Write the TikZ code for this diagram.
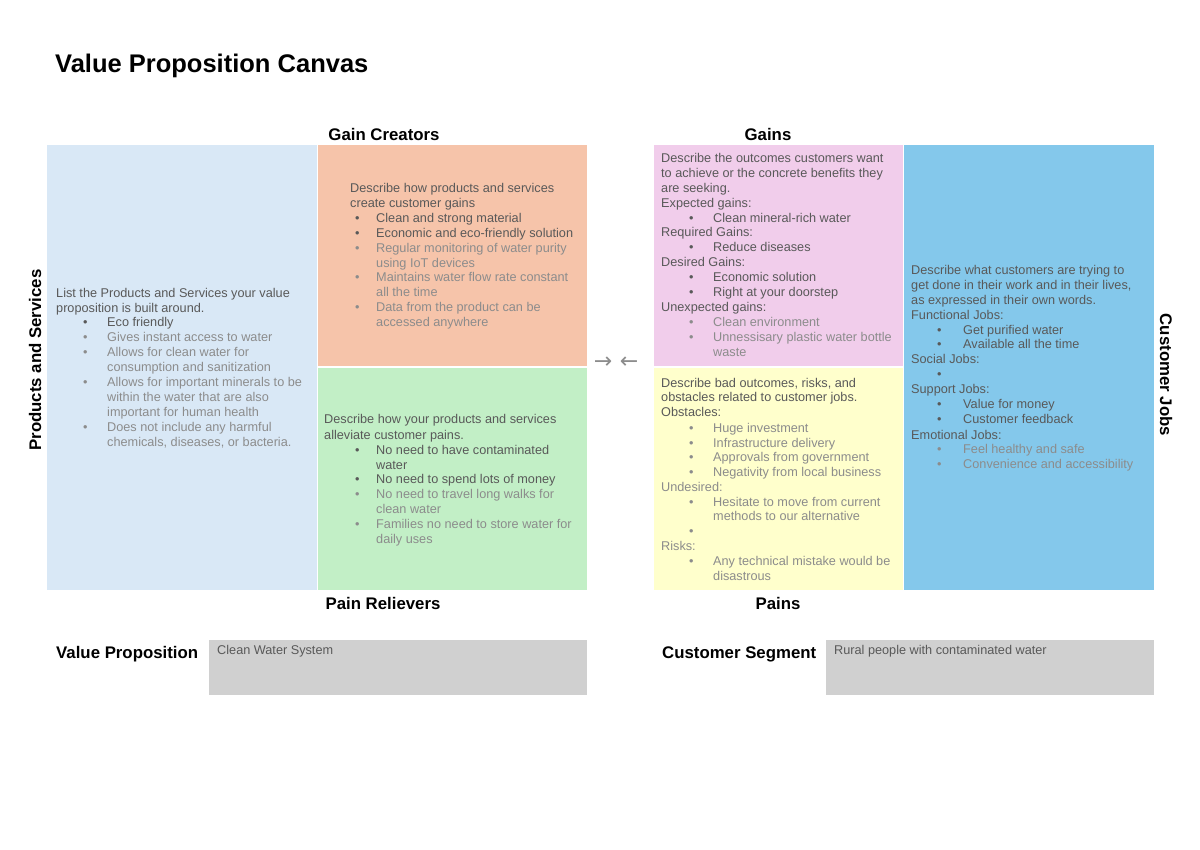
\documentclass[tikz,border=0pt]{standalone}
\usepackage{fontspec}
\setmainfont{Liberation Sans}
\newfontfamily\djv{DejaVu Sans}
\definecolor{dk}{HTML}{595959}
\definecolor{lt}{HTML}{8C8C8C}
\definecolor{cblue}{HTML}{D9E8F6}
\definecolor{corange}{HTML}{F6C4AA}
\definecolor{cgreen}{HTML}{C2EFC6}
\definecolor{cpink}{HTML}{F1CDEB}
\definecolor{cyellow}{HTML}{FFFFCC}
\definecolor{cjobs}{HTML}{84C8EB}
\definecolor{cgray}{HTML}{D0D0D0}
\newcommand{\lineat}[4]{\node[anchor=base west,inner sep=0pt,text=#3,font=\fontsize{12.7}{14}\selectfont] at (#1,#2+4) {#4};}
\newcommand{\bul}[5]{\node[anchor=base west,inner sep=0pt,text=#4,font=\fontsize{12.7}{14}\selectfont] at (#1,#3+4) {\textbullet};\node[anchor=base west,inner sep=0pt,text=#4,font=\fontsize{12.7}{14}\selectfont] at (#2,#3+4) {#5};}
\begin{document}
\begin{tikzpicture}[x=1pt,y=-1pt,
  lab/.style={font=\bfseries\fontsize{16.8}{18}\selectfont,inner sep=0pt}]
\useasboundingbox (0,0) rectangle (1200,850);
\fill[white] (0,0) rectangle (1200,850);
\node[anchor=west,inner sep=0pt,font=\fontsize{25.5}{28}\selectfont\bfseries] (title) at (55,66) {Value Proposition Canvas};
\fill[cblue] (47,145) rectangle (317,590);
\fill[corange] (318,145) rectangle (587,366);
\fill[cgreen] (318,368) rectangle (587,590);
\fill[cpink] (654,145) rectangle (903,366);
\fill[cyellow] (654,368) rectangle (903,590);
\fill[cjobs] (904,145) rectangle (1154,590);
\fill[cgray] (209,640) rectangle (587,695);
\fill[cgray] (826,640) rectangle (1154,695);
\node[lab] (gc) at (384,134) {Gain Creators};
\node[lab] (ga) at (768,134) {Gains};
\node[lab] (pr) at (383,603) {Pain Relievers};
\node[lab] (pa) at (778,603) {Pains};
\node[lab,rotate=90] (ps) at (35,360) {Products and Services};
\node[lab,rotate=-90] (cj) at (1166,375) {Customer Jobs};
\node[lab,anchor=west] (vp) at (56,654) {Value Proposition};
\node[lab,anchor=west] (cs) at (662,654) {Customer Segment};
\node[anchor=north west,inner sep=0pt,text=dk,font=\fontsize{12.7}{14}\selectfont] (vpt) at (217,645) {Clean Water System};
\node[anchor=north west,inner sep=0pt,text=dk,font=\fontsize{12.7}{14}\selectfont] (cst) at (834,645) {Rural people with contaminated water};
\node[text=lt,font=\djv\fontsize{22}{24}\selectfont,inner sep=0pt] (a1) at (603,363) {→};
\node[text=lt,font=\djv\fontsize{22}{24}\selectfont,inner sep=0pt] (a2) at (629,363) {←};
% left
\lineat{56}{294}{dk}{List the Products and Services your value}
\lineat{56}{309}{dk}{proposition is built around.}
\bul{83}{107}{323}{dk}{Eco friendly}
\bul{83}{107}{338}{lt}{Gives instant access to water}
\bul{83}{107}{353}{lt}{Allows for clean water for}
\lineat{107}{368}{lt}{consumption and sanitization}
\bul{83}{107}{383}{lt}{Allows for important minerals to be}
\lineat{107}{397}{lt}{within the water that are also}
\lineat{107}{412}{lt}{important for human health}
\bul{83}{107}{427}{lt}{Does not include any harmful}
\lineat{107}{442}{lt}{chemicals, diseases, or bacteria.}
% orange
\lineat{350}{189}{dk}{Describe how products and services}
\lineat{350}{204}{dk}{create customer gains}
\bul{355}{376}{219}{dk}{Clean and strong material}
\bul{355}{376}{234}{dk}{Economic and eco-friendly solution}
\bul{355}{376}{249}{lt}{Regular monitoring of water purity}
\lineat{376}{264}{lt}{using IoT devices}
\bul{355}{376}{278}{lt}{Maintains water flow rate constant}
\lineat{376}{293}{lt}{all the time}
\bul{355}{376}{308}{lt}{Data from the product can be}
\lineat{376}{323}{lt}{accessed anywhere}
% green
\lineat{324}{420}{dk}{Describe how your products and services}
\lineat{324}{435}{dk}{alleviate customer pains.}
\bul{355}{376}{450}{dk}{No need to have contaminated}
\lineat{376}{465}{dk}{water}
\bul{355}{376}{479}{dk}{No need to spend lots of money}
\bul{355}{376}{494}{lt}{No need to travel long walks for}
\lineat{376}{509}{lt}{clean water}
\bul{355}{376}{524}{lt}{Families no need to store water for}
\lineat{376}{539}{lt}{daily uses}
% pink
\lineat{661}{159}{dk}{Describe the outcomes customers want}
\lineat{661}{174}{dk}{to achieve or the concrete benefits they}
\lineat{661}{189}{dk}{are seeking.}
\lineat{661}{204}{dk}{Expected gains:}
\bul{689}{713}{219}{dk}{Clean mineral-rich water}
\lineat{661}{233}{dk}{Required Gains:}
\bul{689}{713}{248}{dk}{Reduce diseases}
\lineat{661}{263}{dk}{Desired Gains:}
\bul{689}{713}{278}{dk}{Economic solution}
\bul{689}{713}{293}{dk}{Right at your doorstep}
\lineat{661}{308}{dk}{Unexpected gains:}
\bul{689}{713}{323}{lt}{Clean environment}
\bul{689}{713}{338}{lt}{Unnessisary plastic water bottle}
\lineat{713}{352}{lt}{waste}
% yellow
\lineat{661}{384}{dk}{Describe bad outcomes, risks, and}
\lineat{661}{398}{dk}{obstacles related to customer jobs.}
\lineat{661}{413}{dk}{Obstacles:}
\bul{689}{713}{428}{lt}{Huge investment}
\bul{689}{713}{443}{lt}{Infrastructure delivery}
\bul{689}{713}{457}{lt}{Approvals from government}
\bul{689}{713}{472}{lt}{Negativity from local business}
\lineat{661}{487}{lt}{Undesired:}
\bul{689}{713}{502}{lt}{Hesitate to move from current}
\lineat{713}{516}{lt}{methods to our alternative}
\bul{689}{713}{531}{lt}{}
\lineat{661}{546}{lt}{Risks:}
\bul{689}{713}{561}{lt}{Any technical mistake would be}
\lineat{713}{576}{lt}{disastrous}
% jobs
\lineat{911}{271}{dk}{Describe what customers are trying to}
\lineat{911}{286}{dk}{get done in their work and in their lives,}
\lineat{911}{301}{dk}{as expressed in their own words.}
\lineat{911}{316}{dk}{Functional Jobs:}
\bul{937}{963}{331}{dk}{Get purified water}
\bul{937}{963}{345}{dk}{Available all the time}
\lineat{911}{360}{dk}{Social Jobs:}
\bul{937}{963}{375}{dk}{}
\lineat{911}{390}{dk}{Support Jobs:}
\bul{937}{963}{405}{dk}{Value for money}
\bul{937}{963}{420}{dk}{Customer feedback}
\lineat{911}{435}{dk}{Emotional Jobs:}
\bul{937}{963}{449}{lt}{Feel healthy and safe}
\bul{937}{963}{464}{lt}{Convenience and accessibility}
\end{tikzpicture}
\end{document}
